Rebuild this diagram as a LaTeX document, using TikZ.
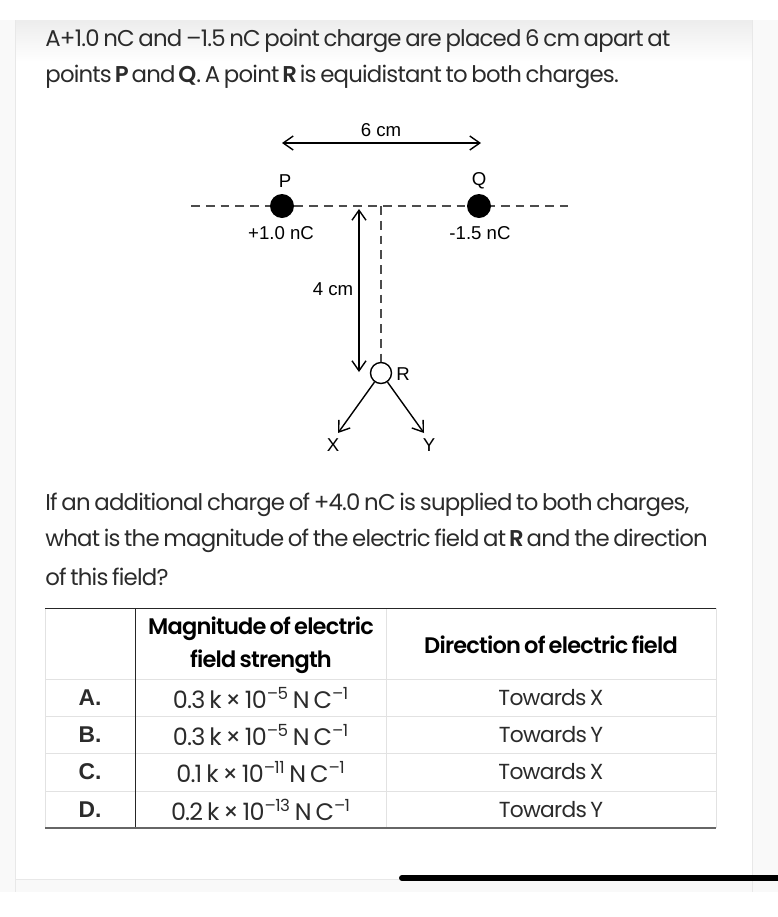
\documentclass[tikz,border=0pt]{standalone}
\usepackage{fontspec}
\setmainfont{Poppins}[LetterSpace=-3.5, WordSpace=0.7, BoldFont={Poppins SemiBold}]
\newfontfamily\labelfont{Liberation Sans}
\usetikzlibrary{arrows.meta}

\definecolor{pagegray}{HTML}{F9F9F9}
\definecolor{edgegray}{HTML}{E8E8E8}
\definecolor{inktext}{HTML}{2B2B2B}
\definecolor{cellline}{HTML}{E2E2E2}

\tikzset{
    bodytext/.style={anchor=west, inner sep=0, text=inktext, font=\fontsize{13}{14}\selectfont},
    celltext/.style={inner sep=0, text=inktext, font=\fontsize{12.4}{14}\selectfont},
    magtext/.style={inner sep=0, text=inktext, font=\fontsize{13.6}{14}\selectfont},
    headtext/.style={inner sep=0, text=black, align=center, font=\fontsize{12.8}{19}\selectfont\bfseries},
    rowtext/.style={inner sep=0, text=inktext, font=\labelfont\bfseries\fontsize{13}{14}\selectfont},
    figtext/.style={inner sep=0, text=black, font=\labelfont\fontsize{10.6}{12}\selectfont},
    charge/.style={circle, fill=black, minimum size=0.48cm, inner sep=0},
    testpoint/.style={circle, draw=black, fill=white, line width=0.8pt, minimum size=0.42cm, inner sep=0},
    arrowline/.style={-{Straight Barb[length=2mm, width=2.8mm]}, line width=0.8pt},
    bothline/.style={{Straight Barb[length=2mm, width=2.8mm]}-{Straight Barb[length=2mm, width=2.8mm]}, line width=0.8pt},
    guide/.style={dash pattern=on 5pt off 3.4pt, line width=0.8pt, draw=black!70},
}

\begin{document}
\begin{tikzpicture}[x=0.02cm, y=-0.02cm]
\useasboundingbox (0, 0) rectangle (778, 917);

% Draw page behind the card.
\fill[pagegray] (0, 20) rectangle (778, 892);
\fill[white] (15, 20) rectangle (752, 879);
\fill[top color=edgegray!80, bottom color=white] (15, 20) rectangle (752, 62);
\draw[edgegray] (15, 20) -- (15, 892);
\draw[edgegray] (752, 20) -- (752, 892);
\draw[edgegray] (15, 879) -- (400, 879);
\draw[black, line width=3.4pt, line cap=round] (402, 878) -- (778, 878);

% Draw question text.
\node[bodytext] (lineA) at (45, 41) {A+1.0 nC and –1.5 nC point charge are placed 6 cm apart at};
\node[bodytext] (lineB) at (45, 77) {points \textbf{P} and \textbf{Q}. A point \textbf{R} is equidistant to both charges.};
\node[bodytext] (lineC) at (45, 505) {If an additional charge of +4.0 nC is supplied to both charges,};
\node[bodytext] (lineD) at (45, 541) {what is the magnitude of the electric field at \textbf{R} and the direction};
\node[bodytext] (lineE) at (45, 577) {of this field?};

% Draw charges.
\coordinate (leftend) at (191, 206);
\coordinate (rightend) at (568, 206);
\coordinate (midtop) at (381, 206);
\coordinate (widthL) at (282, 143);
\coordinate (widthR) at (481, 143);
\coordinate (heightT) at (359, 209);
\coordinate (heightB) at (359, 372);
\coordinate (tipX) at (338, 433);
\coordinate (tipY) at (424, 433);
\draw[guide] (leftend) -- (rightend);
\node[charge] (P) at (282, 206) {};
\node[charge] (Q) at (479, 206) {};
\node[testpoint] (R) at (381, 373) {};
\draw[guide] (midtop) -- (R);

% Draw dimensions.
\draw[bothline] (widthL) -- (widthR);
\draw[bothline] (heightT) -- (heightB);
\draw[arrowline] (R) -- (tipX);
\draw[arrowline] (R) -- (tipY);

% Draw labels.
\node[figtext] (width) at (381, 130) {6 cm};
\node[figtext] (height) at (333, 289) {4 cm};
\node[figtext] (nameP) at (285, 181) {P};
\node[figtext] (nameQ) at (479, 181) {Q};
\node[figtext] (nameR) at (403, 374) {R};
\node[figtext] (nameX) at (333, 445) {X};
\node[figtext] (nameY) at (429, 445) {Y};
\node[figtext] (chargeP) at (281, 233) {+1.0 nC};
\node[figtext] (chargeQ) at (480, 233) {-1.5 nC};

% Draw table.
\foreach \y in {679, 716, 753, 791}
    \draw[cellline] (45, \y) -- (716, \y);
\draw[cellline] (45, 608) -- (45, 828);
\draw[cellline] (386, 608) -- (386, 828);
\draw[cellline] (716, 608) -- (716, 828);
\draw[black!85, line width=0.5pt] (135, 608) -- (135, 828);
\draw[black!85, line width=0.5pt] (45, 608) -- (716, 608);
\draw[black!60, line width=0.7pt] (45, 828) -- (716, 828);

\node[headtext] (headA) at (261, 645) {Magnitude of electric\\field strength};
\node[headtext] (headB) at (551, 645) {Direction of electric field};

% Draw table rows.
\foreach \name/\y/\mag/\dir in {
    A/698/0.3\,k\,×\,10\textsuperscript{–5}\,N\,C\textsuperscript{–1}/X,
    B/735/0.3\,k\,×\,10\textsuperscript{–5}\,N\,C\textsuperscript{–1}/Y,
    C/772/0.1\,k\,×\,10\textsuperscript{–11}\,N\,C\textsuperscript{–1}/X,
    D/810/0.2\,k\,×\,10\textsuperscript{–13}\,N\,C\textsuperscript{–1}/Y}
{
    \node[rowtext] (row\name) at (90, \y) {\name.};
    \node[magtext] (mag\name) at (261, \y) {\mag};
    \node[celltext] (dir\name) at (551, \y) {Towards \dir};
}

\end{tikzpicture}
\end{document}
